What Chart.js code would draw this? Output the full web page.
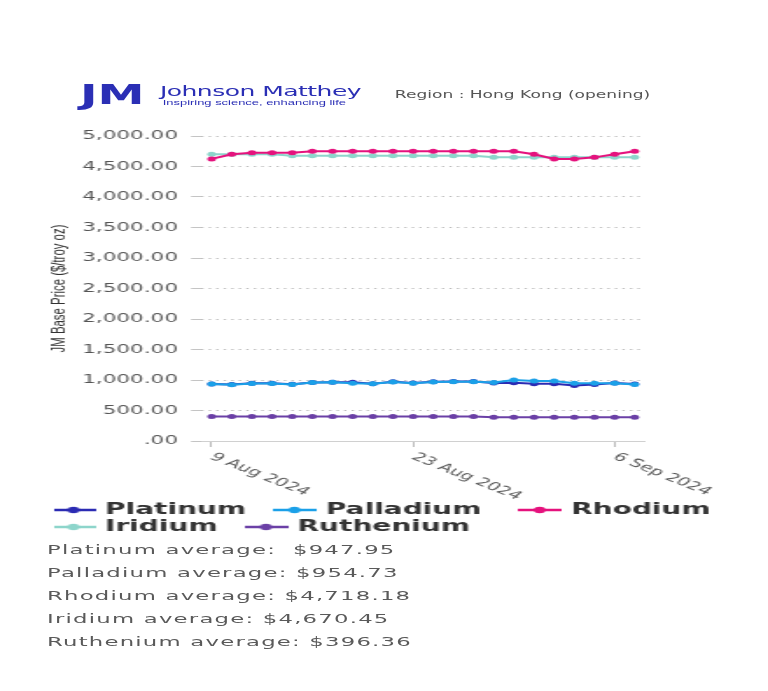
<!DOCTYPE html>
<html>
<head>
<meta charset="utf-8">
<title>JM Base Prices - Hong Kong</title>
<script src="https://cdn.jsdelivr.net/npm/chart.js@4.4.1/dist/chart.umd.min.js"></script>
<style>
  html, body { margin: 0; padding: 0; background: #fff; overflow: hidden; }
  /* the original is a horizontally stretched render, so lay out narrow and stretch */
  #page { position: absolute; left: 0; top: 0; width: 439px; height: 691px;
          transform: scaleX(1.7494); transform-origin: 0 0;
          font-family: "DejaVu Sans", sans-serif; }
  .t { position: absolute; white-space: pre; }
  #logo { left: 45.7px; top: 80px; font: bold 27px/30px "DejaVu Sans"; color: #2b2fb5; }
  #brand { left: 91.4px; top: 83px; font: 14.3px/16px "DejaVu Sans"; letter-spacing: -0.3px; color: #2b2fb5; }
  #tag { left: 93px; top: 97.5px; font: 7.4px/10px "Liberation Sans"; color: #2b2fb5; }
  #region { left: 225.7px; top: 89px; font: 9.75px/12px "DejaVu Sans"; color: #555; }
  #avgs { left: 26.9px; top: 537.5px; font: 13px/23px "DejaVu Sans"; letter-spacing: 0.7px; color: #5a5a5a; }
  #chartBox { position: absolute; left: 0; top: 115px; width: 439px; height: 430px; }
</style>
</head>
<body>
<div id="page">
  <div class="t" id="logo">JM</div>
  <div class="t" id="brand">Johnson Matthey</div>
  <div class="t" id="tag">Inspiring science, enhancing life</div>
  <div class="t" id="region">Region : Hong Kong (opening)</div>
  <div id="chartBox"><canvas id="c" width="439" height="430"></canvas></div>
  <div class="t" id="avgs">Platinum average:  $947.95
Palladium average: $954.73
Rhodium average: $4,718.18
Iridium average: $4,670.45
Ruthenium average: $396.36</div>
</div>
<script>
const DATES = ['9 Aug 2024', '12 Aug 2024', '13 Aug 2024', '14 Aug 2024', '15 Aug 2024', '16 Aug 2024',
  '19 Aug 2024', '20 Aug 2024', '21 Aug 2024', '22 Aug 2024', '23 Aug 2024', '26 Aug 2024', '27 Aug 2024',
  '28 Aug 2024', '29 Aug 2024', '30 Aug 2024', '2 Sep 2024', '3 Sep 2024', '4 Sep 2024', '5 Sep 2024',
  '6 Sep 2024', '9 Sep 2024'];
const X_TICK_LABELS = ['9 Aug 2024', '23 Aug 2024', '6 Sep 2024'];

const PLATINUM = [935, 925, 945, 945, 930, 960, 965, 965, 940, 970, 950, 970, 975, 975, 950, 955, 940, 940, 910, 925, 950, 935];
const PALLADIUM = [933, 923, 943, 943, 928, 958, 963, 948, 938, 968, 948, 968, 973, 973, 958, 1001, 983, 983, 948, 948, 948, 928];
const RHODIUM = [4625, 4700, 4725, 4725, 4725, 4750, 4750, 4750, 4750, 4750, 4750, 4750, 4750, 4750, 4750, 4750, 4700, 4625, 4625, 4650, 4700, 4750];
const IRIDIUM = [4700, 4700, 4700, 4700, 4675, 4675, 4675, 4675, 4675, 4675, 4675, 4675, 4675, 4675, 4650, 4650, 4650, 4650, 4650, 4650, 4650, 4650];
const RUTHENIUM = [400, 400, 400, 400, 400, 400, 400, 400, 400, 400, 400, 400, 400, 400, 390, 390, 390, 390, 390, 390, 390, 390];

const SERIES = [
  { name: 'Platinum', data: PLATINUM, color: '#2b2bb3', order: 1 },
  { name: 'Palladium', data: PALLADIUM, color: '#1ba0e8', order: 0 },
  { name: 'Rhodium', data: RHODIUM, color: '#e5127d', order: 0 },
  { name: 'Iridium', data: IRIDIUM, color: '#8dd5cb', order: 1 },
  { name: 'Ruthenium', data: RUTHENIUM, color: '#6b40a6', order: 0 },
];
// trailing spaces to spread the legend items like the original
const LEGEND_GAP = ['   ', '    ', '', '   ', ''];

Chart.defaults.font.family = '"DejaVu Sans", sans-serif';

// category axis whose slanted labels hang down to the right of the tick
class SlantCategoryScale extends Chart.CategoryScale {
  _getXAxisLabelAlignment() { return 'left'; }
}
SlantCategoryScale.id = 'slantcat';
SlantCategoryScale.defaults = Chart.CategoryScale.defaults;
Chart.register(SlantCategoryScale);

function makeMarker(color) {
  const cv = document.createElement('canvas');
  cv.width = 25;
  cv.height = 10;
  const g = cv.getContext('2d');
  g.strokeStyle = color;
  g.lineWidth = 2.5;
  g.beginPath(); g.moveTo(0, 5); g.lineTo(25, 5); g.stroke();
  g.fillStyle = color;
  g.beginPath(); g.arc(12.5, 5, 3.3, 0, Math.PI * 2); g.fill();
  return cv;
}
const markers = SERIES.map((s) => makeMarker(s.color));

new Chart(document.getElementById('c'), {
  type: 'line',
  data: {
    labels: DATES,
    datasets: SERIES.map((s) => ({
      label: s.name,
      data: s.data,
      order: s.order,
      borderColor: s.color,
      backgroundColor: s.color,
      pointBackgroundColor: s.color,
      pointBorderWidth: 0,
      pointRadius: 2.5,
      borderWidth: 2,
      tension: 0,
      fill: false,
    })),
  },
  options: {
    responsive: false,
    animation: false,
    layout: { padding: { left: 31, right: 0, top: 21, bottom: 0 } },
    plugins: {
      tooltip: { enabled: false },
      legend: {
        position: 'bottom',
        align: 'start',
        labels: {
          usePointStyle: true,
          pointStyleWidth: 20,
          boxHeight: 16,
          padding: 1,
          color: '#333',
          font: { family: '"DejaVu Sans"', size: 16, weight: 'bold' },
          sort: (a, b) => a.datasetIndex - b.datasetIndex,
          generateLabels(chart) {
            const items = Chart.defaults.plugins.legend.labels.generateLabels(chart);
            return items.map((it) => ({ ...it, text: it.text + LEGEND_GAP[it.datasetIndex], pointStyle: markers[it.datasetIndex] }));
          },
        },
      },
    },
    scales: {
      x: {
        type: 'slantcat',
        offset: true,
        grid: {
          drawOnChartArea: false,
          offset: false,
          tickLength: 6,
          tickColor: (ctx) => (X_TICK_LABELS.includes(DATES[ctx.index]) ? '#bbb' : 'rgba(0,0,0,0)'),
        },
        border: { display: true, color: '#d0d0d0', width: 1 },
        ticks: {
          autoSkip: false,
          minRotation: -34.5,
          maxRotation: -34.5,
          padding: 3,
          color: '#5a5a5a',
          font: { family: '"DejaVu Sans"', size: 11.5 },
          callback: (v, i) => (X_TICK_LABELS.includes(DATES[i]) ? DATES[i] : ''),
        },
        afterFit: (s) => { s.height = 60; s.paddingLeft = 0; s.paddingRight = 70.4; },
      },
      y: {
        min: 0,
        max: 5000,
        ticks: {
          stepSize: 500,
          padding: 7.5,
          color: '#555',
          font: { family: '"DejaVu Sans"', size: 12.3 },
          callback: (v) => (v === 0 ? '.00' : v.toLocaleString('en-US', { minimumFractionDigits: 2, maximumFractionDigits: 2 })),
        },
        grid: { color: '#bdbdbd', tickColor: '#c4c4c4', tickLength: 6, lineWidth: 1 },
        border: { display: false, dash: (ctx) => (ctx.tick && ctx.tick.value === 0 ? [] : [1.3, 3]) },
        title: {
          display: true,
          text: 'JM Base Price ($/troy oz)',
          color: '#333',
          font: { family: '"Liberation Sans"', size: 11.4 },
          padding: { top: -3.5, bottom: 0 },
        },
        afterFit: (s) => { s.width = 84.2; s.paddingTop = 0; s.paddingBottom = 0; },
      },
    },
  },
});
</script>
</body>
</html>
